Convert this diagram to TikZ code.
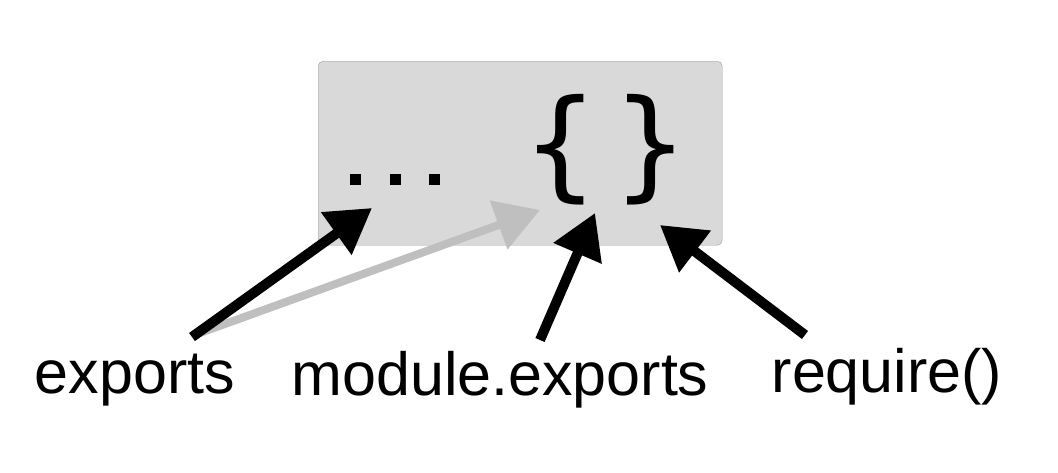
\documentclass[tikz,border=0pt]{standalone}
\usepackage{fontspec}
\setmainfont{Liberation Sans}
\newfontfamily\djv{DejaVu Sans}
\usetikzlibrary{arrows.meta}
\begin{document}
\begin{tikzpicture}[x=1pt,y=-1pt,
  arr/.style={line width=10pt,-{Triangle[length=44pt,width=50pt]}},
  lbl/.style={font=\fontsize{61}{66}\selectfont,inner sep=0pt},
  dot/.style={fill=black,minimum size=11pt,inner sep=0pt}]
\useasboundingbox (0,0) rectangle (1058,472);
\node[draw=gray!80,fill=black!15,rounded corners=5pt,minimum width=404pt,minimum height=184pt,anchor=north west] (box) at (318,61) {};
\node[dot] (d1) at (355,179) {};
\node[dot] (d2) at (395,179) {};
\node[dot] (d3) at (434,179) {};
\node[inner sep=0pt] (br) at (606,150) {\djv\fontsize{120}{130}\selectfont\{\hspace{14pt}\}};
\node[lbl] (ex) at (135,380) {exports};
\node[lbl] (me) at (500,380) {module.exports};
\node[lbl] (rq) at (887,377) {require()};
\coordinate (e0) at (200,333); \coordinate (e1) at (540,210);
\coordinate (a0) at (192,337); \coordinate (a1) at (372,208);
\coordinate (b0) at (540,340); \coordinate (b1) at (595,213);
\coordinate (c0) at (805,335); \coordinate (c1) at (660,225);
\draw[arr,gray!50,line width=8pt] (e0) -- (e1);
\draw[arr] (a0) -- (a1);
\draw[arr] (b0) -- (b1);
\draw[arr] (c0) -- (c1);
\end{tikzpicture}
\end{document}
